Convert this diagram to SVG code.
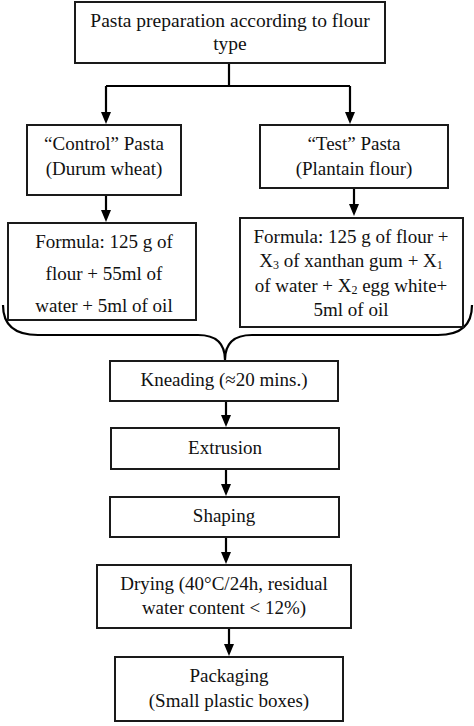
<svg xmlns="http://www.w3.org/2000/svg" width="474" height="726" viewBox="0 0 474 726">
<defs>
<style>
.box{fill:#fff;stroke:#1a1a1a;stroke-width:2}
.t{font-family:"Liberation Serif","DejaVu Serif",serif;font-size:19px;fill:#111;text-anchor:middle}
.big{font-size:19.5px}
.c{fill:none;stroke:#000;stroke-width:2.2}
.ah{fill:#000}
.sub{font-size:12px}
</style>
</defs>
<rect width="474" height="726" fill="#fff"/>
<g id="connectors">
<path class="c" d="M229,63 V86 M106,86 H350"/>
<path class="c" d="M106,86 V113"/>
<path class="ah" d="M101,112 L111,112 L106,124 Z"/>
<path class="c" d="M350,86 V113"/>
<path class="ah" d="M345,112 L355,112 L350,124 Z"/>
<path class="c" d="M106,195 V211"/>
<path class="ah" d="M101,210 L111,210 L106,222 Z"/>
<path class="c" d="M354,188 V205"/>
<path class="ah" d="M349,204 L359,204 L354,216 Z"/>
<path class="c" d="M3,305 Q3,335 38,335 L198,335 Q225,335 225,360 Q225,335 252,335 L438,335 Q472,335 472,305"/>
<path class="c" d="M226,401 V416"/>
<path class="ah" d="M221,415 L231,415 L226,427 Z"/>
<path class="c" d="M226,469 V485"/>
<path class="ah" d="M221,484 L231,484 L226,496 Z"/>
<path class="c" d="M226,537 V553"/>
<path class="ah" d="M221,552 L231,552 L226,564 Z"/>
<path class="c" d="M229,628 V645"/>
<path class="ah" d="M224,644 L234,644 L229,656 Z"/>
</g>
<g id="n-top">
<rect class="box" x="75" y="2" width="310" height="61"/>
<text class="t big" x="230" y="27">Pasta preparation according to flour</text>
<text class="t big" x="230" y="50">type</text>
</g>
<g id="n-control">
<rect class="box" x="27" y="125" width="154" height="70"/>
<text class="t" x="104" y="150">“Control” Pasta</text>
<text class="t" x="104" y="175">(Durum wheat)</text>
</g>
<g id="n-test">
<rect class="box" x="260" y="125" width="188" height="63"/>
<text class="t" x="354" y="150">“Test” Pasta</text>
<text class="t" x="354" y="175">(Plantain flour)</text>
</g>
<g id="n-formula-control">
<rect class="box" x="8" y="223" width="188" height="97"/>
<text class="t" x="104" y="248">Formula: 125 g of</text>
<text class="t" x="104" y="280">flour + 55ml of</text>
<text class="t" x="104" y="312">water + 5ml of oil</text>
</g>
<g id="n-formula-test">
<rect class="box" x="240" y="218" width="223" height="109"/>
<text class="t" x="351" y="243">Formula: 125 g of flour +</text>
<text class="t" x="351" y="267">X<tspan class="sub" dy="2">3</tspan><tspan dy="-2"> of xanthan gum + X</tspan><tspan class="sub" dy="2">1</tspan></text>
<text class="t" x="351" y="292">of water + X<tspan class="sub" dy="2">2</tspan><tspan dy="-2"> egg white+</tspan></text>
<text class="t" x="351" y="316">5ml of oil</text>
</g>
<g id="n-kneading">
<rect class="box" x="110" y="361" width="228" height="40"/>
<text class="t" x="224" y="386">Kneading (≈20 mins.)</text>
</g>
<g id="n-extrusion">
<rect class="box" x="111" y="428" width="228" height="41"/>
<text class="t" x="225" y="454">Extrusion</text>
</g>
<g id="n-shaping">
<rect class="box" x="110" y="497" width="229" height="40"/>
<text class="t" x="224" y="522">Shaping</text>
</g>
<g id="n-drying">
<rect class="box" x="97" y="565" width="254" height="63"/>
<text class="t" x="224" y="590">Drying (40°C/24h, residual</text>
<text class="t" x="224" y="614">water content &lt; 12%)</text>
</g>
<g id="n-packaging">
<rect class="box" x="115" y="657" width="228" height="64"/>
<text class="t" x="229" y="682">Packaging</text>
<text class="t" x="229" y="707">(Small plastic boxes)</text>
</g>
</svg>
